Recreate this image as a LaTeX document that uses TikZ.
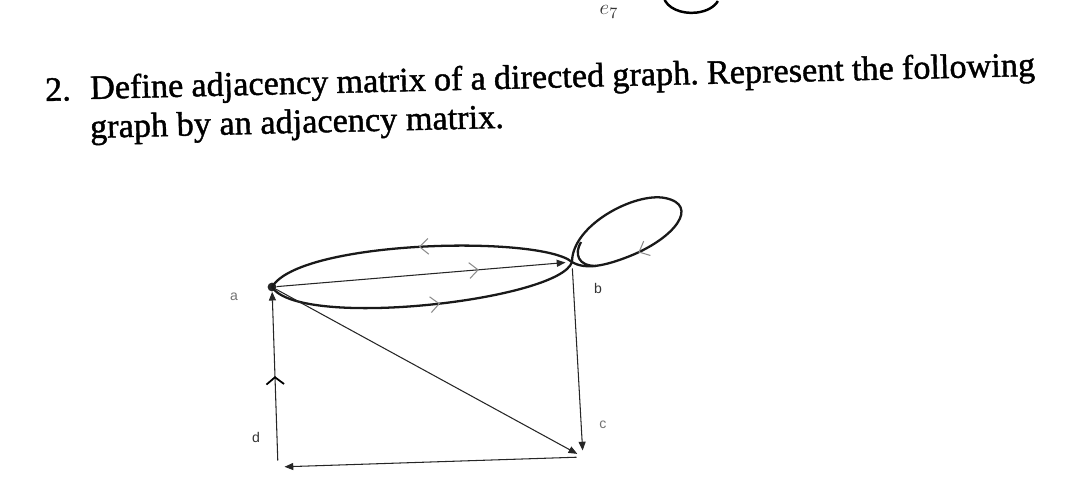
\documentclass[tikz,border=0pt]{standalone}
\usepackage{fontspec}
\setmainfont{Liberation Serif}[FakeBold=1.2]
\newfontfamily\labelfont{Liberation Sans}
\usetikzlibrary{arrows.meta,decorations.markings}
\frenchspacing
\tikzset{
  qtext/.style={inner sep=0pt, anchor=base west, rotate=1.4, font=\fontsize{19.5}{22}\selectfont},
  vertex/.style={circle, inner sep=0pt, minimum size=7pt},
  lbl/.style={font=\labelfont\fontsize{8}{9}\selectfont, text=black!55},
  thickedge/.style={line width=1.3pt, color=black!90},
  thinedge/.style={line width=0.6pt, color=black!85},
  tip/.style={-{Triangle[length=5pt,width=4pt]}},
  midmark/.style={postaction={decorate, decoration={markings,
      mark=at position #1 with {\arrow[black!45, line width=0.6pt]{Straight Barb[length=5pt,width=9pt]}}}}}
}

\begin{document}
\begin{tikzpicture}[x=0.02cm, y=-0.02cm]
		%%%%% START %%%%%
		\useasboundingbox (0,0) rectangle (1080,504);
		\clip (0,0) rectangle (1080,504);
		
		% leftover of the previous question
		\node[font=\fontsize{13}{13}\selectfont, color=black!80, inner sep=0pt] (prev) at (609,12) {$e_7$};
		\draw[line width=1.4pt] (664,-2) arc (170:20:28 and 18);
		
		% question text
		\node[qtext] (num) at (45,101) {2.};
		\node[qtext] (line1) at (90,99) {\makebox[538pt][s]{Define adjacency matrix of a directed graph. Represent the following}};
		\node[qtext] (line2) at (90,138) {graph by an adjacency matrix.};
		
		% vertices
		\node[vertex, fill=black!85, minimum size=5pt] (a) at (272,287) {};
		\node[vertex] (b) at (572,262) {};
		\node[vertex] (c) at (583,457) {};
		\node[vertex] (d) at (278,467) {};
		
		\node[lbl] (la) at (234,297) {a};
		\node[lbl, text=black!80] (lb) at (598,288) {b};
		\node[lbl] (lc) at (603,425) {c};
		\node[lbl, text=black!80] (ld) at (256,437) {d};
		
		% the three edges between a and b
		\draw[thickedge, midmark=0.5] (b.center) .. controls (540,235) and (300,240) .. (a.center);
		\draw[thinedge, tip, midmark=0.7] (a) -- (b);
		\draw[thickedge, midmark=0.55] (a.center) .. controls (300,330) and (560,300) .. (b.center);
		
		% loop at b
		\draw[thickedge, midmark=0.75] (b.center) .. controls (572,225) and (635,192) .. (665,198)
			.. controls (700,205) and (675,238) .. (630,256) .. controls (605,266) and (585,270) .. (b.center);
		\draw[thickedge] (581,242) .. controls (574,254) and (578,266) .. (596,266);
		
		% remaining edges
		\draw[thinedge, tip] (a) -- (c);
		\draw[thinedge, tip] (b) -- (c);
		\draw[thinedge, tip] (c) -- (d);
		\draw[thinedge, tip, postaction={decorate, decoration={markings,
			mark=at position 0.5 with {\arrow[black, line width=1pt]{Straight Barb[length=4pt,width=10pt]}}}}] (d) -- (a);
		
		%%%%% END %%%%%
	\end{tikzpicture}
\end{document}
